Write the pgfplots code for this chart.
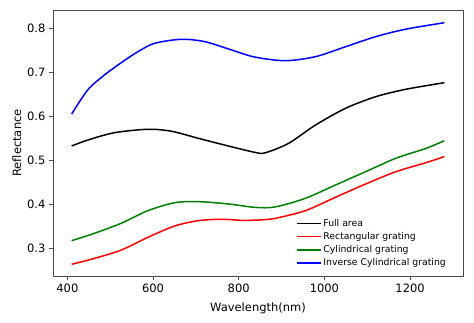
\documentclass[border=0pt]{standalone}
\usepackage{fontspec}
\setmainfont{DejaVu Sans}
\usepackage{pgfplots}
\pgfplotsset{compat=1.18}
\begin{document}
\begin{tikzpicture}[x=1pt,y=1pt]
\useasboundingbox (0,0) rectangle (474,322);
\begin{axis}[
  at={(53pt,46pt)}, anchor=south west,
  scale only axis, width=410pt, height=266pt,
  xmin=366.5, xmax=1323.5, ymin=0.237, ymax=0.8416,
  xtick={400,600,800,1000,1200},
  ytick={0.3,0.4,0.5,0.6,0.7,0.8},
  /pgf/number format/assume math mode=true,
  /pgf/number format/1000 sep={},
  yticklabel style={/pgf/number format/fixed,/pgf/number format/precision=1},
  tick label style={font=\fontsize{11.5}{13}\selectfont},
  label style={font=\fontsize{11.5}{13}\selectfont},
  xlabel={Wavelength(nm)}, ylabel={Reflectance},
  xlabel style={yshift=-4pt},
  ylabel style={yshift=-1pt},
  tick align=outside, major tick length=4pt,
  xtick pos=bottom, ytick pos=left,
  axis line style={draw=black!70, line width=0.8pt},
  tick style={draw=black!70, line width=0.8pt},
  legend style={draw=none, fill=none,
    at={(0.592,0.222)}, anchor=north west,
    font=\fontsize{9.3}{10.5}\selectfont, row sep=0.6pt, inner sep=0pt},
  legend cell align=left,
  legend image code/.code={\draw[#1] (0pt,0pt) -- (24pt,0pt);},
]
\addlegendimage{black, line width=1.5pt}
\addlegendentry{Full area}
\addlegendimage{red, line width=1.5pt}
\addlegendentry{Rectangular grating}
\addlegendimage{green!50!black, line width=1.5pt}
\addlegendentry{Cylindrical grating}
\addlegendimage{blue, line width=1.5pt}
\addlegendentry{Inverse Cylindrical grating}
\addplot[black, line width=1.5pt, smooth, forget plot] coordinates {
(410,0.5325) (447.6,0.546) (510,0.5627) (588,0.5705) (643,0.566) (705.5,0.550)
(775.8,0.5325) (838,0.518) (861.8,0.517) (916.5,0.5386) (979,0.580) (1049,0.618)
(1119.6,0.6445) (1190,0.6614) (1280,0.6764)};
\addplot[red, line width=1.5pt, smooth, forget plot] coordinates {
(410,0.2636) (463,0.277) (526,0.296) (588,0.325) (650.8,0.3507) (705.5,0.3627)
(760,0.366) (807,0.3635) (850,0.3645) (885,0.368) (955.6,0.3855) (1026,0.416)
(1096,0.446) (1166.5,0.474) (1236.9,0.4945) (1280,0.5085)};
\addplot[green!50!black, line width=1.5pt, smooth, forget plot] coordinates {
(410,0.3173) (463,0.334) (526,0.357) (588,0.3855) (650.8,0.4036) (705.5,0.406)
(775.8,0.4007) (838,0.393) (885,0.394) (955.6,0.4136) (1026,0.4439) (1096,0.474)
(1166.5,0.5045) (1236.9,0.527) (1280,0.5445)};
\addplot[blue, line width=1.5pt, smooth, forget plot] coordinates {
(410,0.605) (447.6,0.660) (486.7,0.694) (526,0.722) (565,0.747) (604,0.766)
(666.5,0.775) (721,0.7696) (783.7,0.7507) (838,0.7345) (908.7,0.7264) (979,0.7355)
(1049,0.758) (1119.6,0.781) (1190,0.798) (1280,0.8127)};
\end{axis}
\end{tikzpicture}
\end{document}
